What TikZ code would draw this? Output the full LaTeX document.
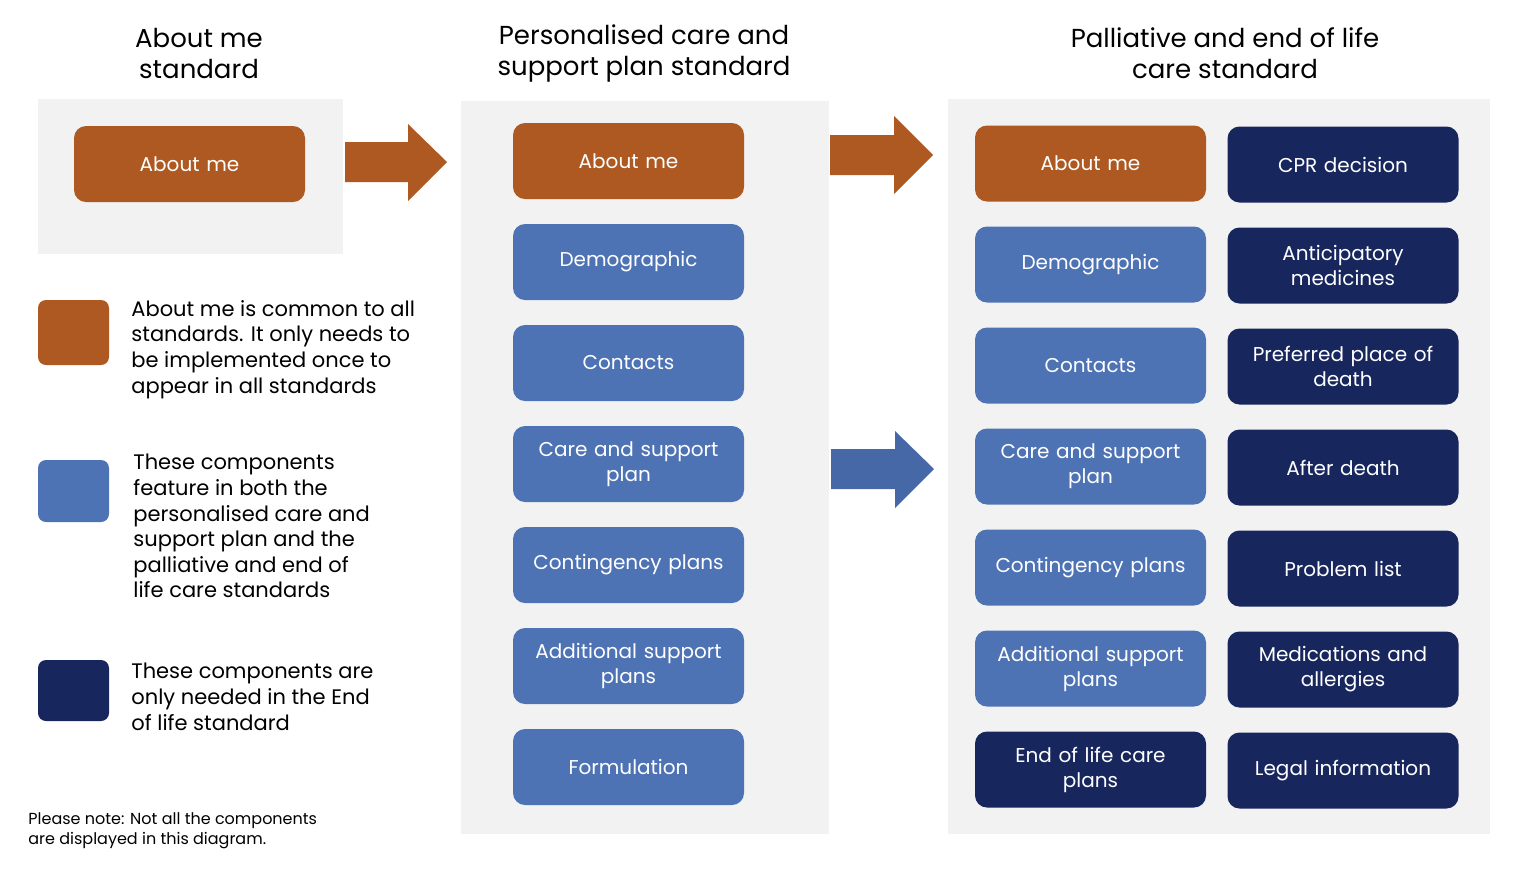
\documentclass[tikz,border=0pt]{standalone}
\usepackage{fontspec}
\setmainfont{Poppins}
\usetikzlibrary{positioning}
\definecolor{rust}{RGB}{173,89,33}
\definecolor{midblue}{RGB}{78,115,180}
\definecolor{navy}{RGB}{24,38,94}
\definecolor{panel}{RGB}{242,242,242}
\tikzset{
  box/.style={rounded corners=6pt,minimum width=115.5pt,minimum height=38pt,
    text=white,align=center,font=\fontsize{10}{12.5}\selectfont,inner sep=0pt,text width=112pt},
  title/.style={align=center,font=\fontsize{13}{15.5}\selectfont},
  legend/.style={anchor=north west,align=left,inner sep=0pt,font=\fontsize{10.5}{12.8}\selectfont}
}
\begin{document}
\begin{tikzpicture}[x=0.5pt,y=-0.5pt]
\useasboundingbox (0,0) rectangle (1536,874);
%panels
\fill[panel] (38,99) rectangle (343,254);
\fill[panel] (461,101) rectangle (829,834);
\fill[panel] (948,99) rectangle (1490,834);
%titles
\node[title] (t1) at (199,53) {About me\\standard};
\node[title] (t2) at (644,53) {Personalised care and\\support plan standard};
\node[title] (t3) at (1225,53) {Palliative and end of life\\care standard};
%arrows
\fill[rust] (345,142) -- (408,142) -- (408,124) -- (447,162) -- (408,201) -- (408,182) -- (345,182) -- cycle;
\fill[rust] (830,135) -- (894,135) -- (894,116) -- (933,155) -- (894,194) -- (894,175) -- (830,175) -- cycle;
\fill[midblue!85!navy] (831,449) -- (895,449) -- (895,431) -- (934,469) -- (895,508) -- (895,489) -- (831,489) -- cycle;
%about me standard
\node[box,fill=rust] (a1) at (189.5,164) {About me};
%personalised care
\foreach \i/\c/\t in {0/rust/About me,1/midblue/Demographic /\\GP details,2/midblue/Contacts,
  3/midblue/Care and support\\plan,4/midblue/Contingency plans,5/midblue/Additional support\\plans,6/midblue/Formulation}
  \node[box,fill=\c] (p\i) at (628.5,{161+101*\i}) {\t};
%palliative
\foreach \i/\c/\t in {0/rust/About me,1/midblue/Demographic /\\GP details,2/midblue/Contacts,
  3/midblue/Care and support\\plan,4/midblue/Contingency plans,5/midblue/Additional support\\plans,6/navy/End of life care\\plans}
  \node[box,fill=\c] (q\i) at (1090.5,{163.5+101*\i}) {\t};
\foreach \i/\t in {0/CPR decision,1/Anticipatory\\medicines,2/Preferred place of\\death,3/After death,
  4/Problem list,5/Medications and\\allergies,6/Legal information}
  \node[box,fill=navy] (r\i) at (1343,{164.5+101*\i}) {\t};
%legend
\fill[rust,rounded corners=4pt] (38,300) rectangle (109,365);
\fill[midblue,rounded corners=4pt] (38,460) rectangle (109,522);
\fill[navy,rounded corners=4pt] (38,660) rectangle (109,721);
\node[legend] (l1) at (131,300) {About me is common to all\\standards. It only needs to\\be implemented once to\\appear in all standards};
\node[legend] (l2) at (133,454) {These components\\feature in both the\\personalised care and\\support plan and the\\palliative and end of\\life care standards};
\node[legend] (l3) at (131,663) {These components are\\only needed in the End\\of life standard};
\node[legend,font=\fontsize{8}{10}\selectfont] (note) at (28,812) {Please note: Not all the components\\are displayed in this diagram.};
\end{tikzpicture}
\end{document}
